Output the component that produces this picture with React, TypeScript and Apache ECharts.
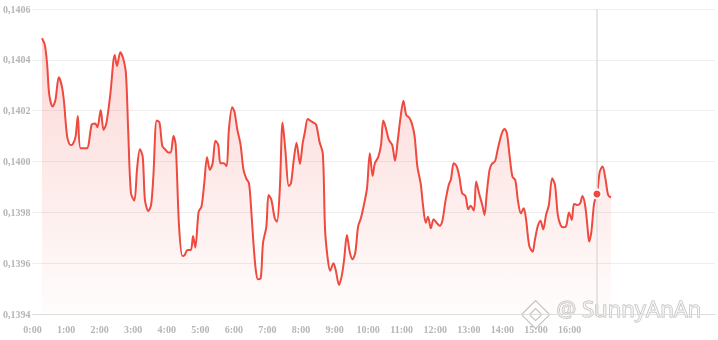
import React, { useEffect, useRef } from "react";
import * as echarts from "echarts";

// minutes since 0:00
const minutes = [
  17, 22, 26, 30, 36, 41, 47, 52, 56, 62, 68, 72, 77, 81, 86, 97, 106, 112, 116, 122,
  127, 132, 139, 147, 151, 157, 162, 167, 171, 176, 182, 187, 192, 197, 201, 207, 212, 216, 222, 227,
  232, 237, 243, 247, 252, 256, 262, 268, 272, 277, 283, 287, 291, 297, 302, 307, 312, 317, 322, 327,
  332, 336, 342, 347, 351, 357, 361, 366, 372, 377, 382, 387, 391, 395, 399, 403, 408, 412, 418, 422,
  427, 433, 437, 442, 447, 452, 458, 462, 467, 472, 478, 483, 487, 492, 497, 502, 507, 513, 519, 523,
  528, 532, 538, 542, 548, 553, 557, 562, 567, 572, 577, 582, 587, 593, 598, 603, 608, 612, 618, 623,
  627, 631, 637, 643, 648, 653, 658, 663, 668, 673, 678, 683, 688, 694, 698, 703, 707, 712, 717, 723,
  728, 733, 738, 744, 748, 753, 758, 763, 768, 774, 779, 783, 789, 793, 799, 804, 808, 812, 817, 821,
  827, 832, 839, 844, 848, 853, 858, 863, 868, 873, 878, 882, 888, 894, 898, 903, 908, 913, 918, 923,
  929, 934, 939, 944, 949, 954, 959, 964, 968, 974, 979, 983, 988, 992, 995, 999, 1004, 1009, 1014, 1019,
  1024, 1029, 1034,
];

const prices = [
  0.140485, 0.140459, 0.140387, 0.140262, 0.140216, 0.140242, 0.140331, 0.140301, 0.140242, 0.140098,
  0.140065, 0.140068, 0.140098, 0.140179, 0.140052, 0.140052, 0.140146, 0.14015, 0.140135, 0.140203,
  0.140124, 0.14015, 0.140262, 0.140419, 0.140376, 0.14043, 0.140406, 0.140347, 0.140124, 0.139875,
  0.139846, 0.139973, 0.140048, 0.140019, 0.139849, 0.139805, 0.139829, 0.13994, 0.140161, 0.140153,
  0.140061, 0.140048, 0.140035, 0.140035, 0.1401, 0.140065, 0.139744, 0.139628, 0.139632, 0.139652,
  0.139652, 0.139707, 0.139662, 0.139803, 0.139822, 0.139914, 0.140017, 0.139967, 0.139993, 0.140082,
  0.140065, 0.139993, 0.139993, 0.139982, 0.140124, 0.140213, 0.140196, 0.140127, 0.140065, 0.139969,
  0.139934, 0.139914, 0.139809, 0.139678, 0.139576, 0.139537, 0.139541, 0.139678, 0.139744, 0.139868,
  0.139849, 0.139777, 0.139763, 0.139888, 0.140153, 0.140045, 0.139904, 0.139914, 0.140006, 0.140074,
  0.13999, 0.140072, 0.140117, 0.140167, 0.14016, 0.140153, 0.140145, 0.140078, 0.14003, 0.139731,
  0.139613, 0.13957, 0.1396, 0.139573, 0.139514, 0.139553, 0.139613, 0.139711, 0.139645, 0.139615,
  0.139641, 0.139744, 0.139777, 0.139836, 0.139895, 0.140032, 0.139943, 0.139993, 0.140017, 0.140065,
  0.140161, 0.140137, 0.140085, 0.140065, 0.140003, 0.140085, 0.140176, 0.140239, 0.140183, 0.140174,
  0.14015, 0.1401, 0.13998, 0.139912, 0.139829, 0.139759, 0.139783, 0.139737, 0.139773, 0.139757,
  0.139747, 0.13977, 0.139842, 0.139908, 0.13993, 0.139993, 0.139982, 0.13994, 0.139875, 0.139864,
  0.139812, 0.139826, 0.139807, 0.139921, 0.139868, 0.139829, 0.13979, 0.139875, 0.139967, 0.13999,
  0.140002, 0.140052, 0.140111, 0.140128, 0.140111, 0.140019, 0.13994, 0.139927, 0.139842, 0.139796,
  0.139816, 0.139777, 0.139668, 0.139645, 0.139691, 0.139744, 0.139767, 0.139733, 0.13979, 0.139829,
  0.139934, 0.139908, 0.13979, 0.13975, 0.139741, 0.139747, 0.139799, 0.13977, 0.139833, 0.139829,
  0.139836, 0.139864, 0.139825, 0.139744, 0.139685, 0.139724, 0.139836, 0.139872, 0.13996, 0.13998,
  0.139934, 0.139868, 0.139858,
];

const xTickLabels = [
  "0:00", "1:00", "2:00", "3:00", "4:00", "5:00", "6:00", "7:00", "8:00",
  "9:00", "10:00", "11:00", "12:00", "13:00", "14:00", "15:00", "16:00",
];

const yMin = 0.1394;
const yMax = 0.1406;
const yStep = 0.0002;
const xMax = 1220;
const hoverMinute = 1009;

const RED = "#ee4a3f";

export default function App() {
  const ref = useRef<HTMLDivElement>(null);

  useEffect(() => {
    if (!ref.current) return;
    const chart = echarts.init(ref.current, undefined, { renderer: "svg" });
    const data = minutes.map((m, i) => [m, prices[i]]);
    const hi = minutes.indexOf(hoverMinute);

    chart.setOption({
      animation: false,
      grid: { left: 32, right: 1, top: 9, bottom: 26, containLabel: false },
      xAxis: {
        type: "value",
        min: 0,
        max: xMax,
        interval: 60,
        splitLine: { show: false },
        axisTick: { show: false },
        axisLine: { lineStyle: { color: "#dddddd" } },
        axisLabel: {
          margin: 10,
          color: "#b5b5b5",
          fontSize: 10,
          fontWeight: "bold",
          fontFamily: "Liberation Serif",
          formatter: (v: number) => (v % 60 === 0 ? xTickLabels[v / 60] ?? "" : ""),
        },
      },
      yAxis: {
        type: "value",
        min: yMin,
        max: yMax,
        interval: yStep,
        axisLine: { show: false },
        axisTick: { show: false },
        splitLine: { lineStyle: { color: "#eeeeee" } },
        axisLabel: {
          margin: 2,
          color: "#b5b5b5",
          fontSize: 10,
          fontWeight: "bold",
          fontFamily: "Liberation Serif",
          formatter: (v: number) => v.toFixed(4).replace(".", ","),
        },
      },
      graphic: [
        {
          type: "group",
          left: 521,
          top: 300,
          silent: true,
          children: [
            {
              type: "polygon",
              shape: { points: [[14, 0], [28, 14], [14, 28], [0, 14]] },
              style: { fill: "rgba(255,255,255,0.6)", stroke: "rgba(170,170,170,0.7)", lineWidth: 1.2 },
            },
            {
              type: "polygon",
              shape: { points: [[14, 8], [20, 14], [14, 20], [8, 14]] },
              style: { fill: "rgba(255,255,255,0.6)", stroke: "rgba(170,170,170,0.7)", lineWidth: 1.2 },
            },
          ],
        },
        {
          type: "text",
          left: 556,
          top: 296,
          silent: true,
          style: {
            text: "@ SunnyAnAn",
            font: '22px "Noto Sans"',
            fill: "rgba(255,255,255,0.55)",
            stroke: "rgba(160,160,160,0.75)",
            lineWidth: 1,
          },
        },
      ],
      series: [
        {
          type: "line",
          data,
          smooth: 0.3,
          showSymbol: false,
          symbol: "none",
          lineStyle: { color: RED, width: 2 },
          areaStyle: {
            color: new echarts.graphic.LinearGradient(0, 0, 0, 1, [
              { offset: 0, color: "rgba(240,80,70,0.32)" },
              { offset: 1, color: "rgba(240,80,70,0.02)" },
            ]),
          },
          markLine: {
            silent: true,
            symbol: ["none", "none"],
            label: { show: false },
            lineStyle: { color: "#dedede", width: 1.5, type: "solid" },
            data: [{ xAxis: hoverMinute }],
          },
          markPoint: {
            symbol: "circle",
            symbolSize: 9,
            label: { show: false },
            itemStyle: { color: RED, borderColor: "#ffffff", borderWidth: 2 },
            data: [{ coord: [minutes[hi], prices[hi]] }],
          },
        },
      ],
    });

    return () => chart.dispose();
  }, []);

  return (
    <div
      ref={ref}
      style={{ position: "fixed", left: 0, top: 0, width: 718, height: 340 }}
    />
  );
}
